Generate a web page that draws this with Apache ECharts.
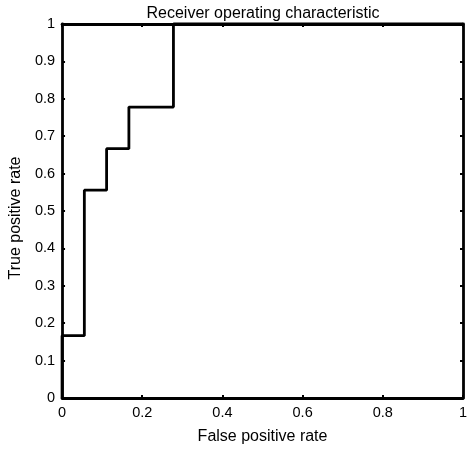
<!DOCTYPE html>
<html><head><meta charset="utf-8">
<script src="https://cdn.jsdelivr.net/npm/echarts@6/dist/echarts.min.js"></script>
<style>html,body{margin:0;padding:0;background:#fff}#c{width:474px;height:459px}</style>
</head><body><div id="c"></div>
<script>
var fpr = [0, 0, 0.0556, 0.0556, 0.1111, 0.1111, 0.1667, 0.1667, 0.2778, 0.2778, 1];
var tpr = [0, 0.1667, 0.1667, 0.5556, 0.5556, 0.6667, 0.6667, 0.7778, 0.7778, 1, 1];
var title = 'Receiver operating characteristic';
var xName = 'False positive rate';
var yName = 'True positive rate';

var pts = fpr.map(function (x, i) { return [x, tpr[i]]; });
var font = 'Liberation Sans, Arial, Helvetica, sans-serif';
function ax(pos, show, name, gap, pad) {
  return {
    type: 'value', position: pos, min: 0, max: 1, interval: pos === 'left' || pos === 'right' ? 0.1 : 0.2,
    name: show ? name : '', nameLocation: 'middle', nameGap: gap,
    nameTextStyle: { color: '#000', fontSize: 16, fontFamily: font, padding: pad || 0 },
    axisLine: { show: true, onZero: false, lineStyle: { color: '#000', width: 2.8 } },
    axisTick: { show: true, inside: true, length: 3, lineStyle: { color: '#000', width: 2 } },
    axisLabel: { show: show, color: '#000', fontSize: 14.5, fontFamily: font, margin: 7 },
    splitLine: { show: false }
  };
}
var chart = echarts.init(document.getElementById('c'));
chart.setOption({
  animation: false,
  title: { text: title, left: 258, top: 1, textAlign: 'center', textStyle: { color: '#000', fontSize: 16, fontWeight: 'normal', fontFamily: font } },
  grid: { left: 61, right: 11, top: 24, bottom: 61, containLabel: false },
  xAxis: [ax('bottom', true, xName, 31), ax('top', false, '', 0)],
  yAxis: [ax('left', true, yName, 37, [0, 14, 0, 0]), ax('right', false, '', 0)],
  series: [{
    type: 'line', data: pts, xAxisIndex: 0, yAxisIndex: 0, showSymbol: false,
    lineStyle: { color: '#000', width: 2.8 }, clip: false
  }]
});
</script></body></html>
